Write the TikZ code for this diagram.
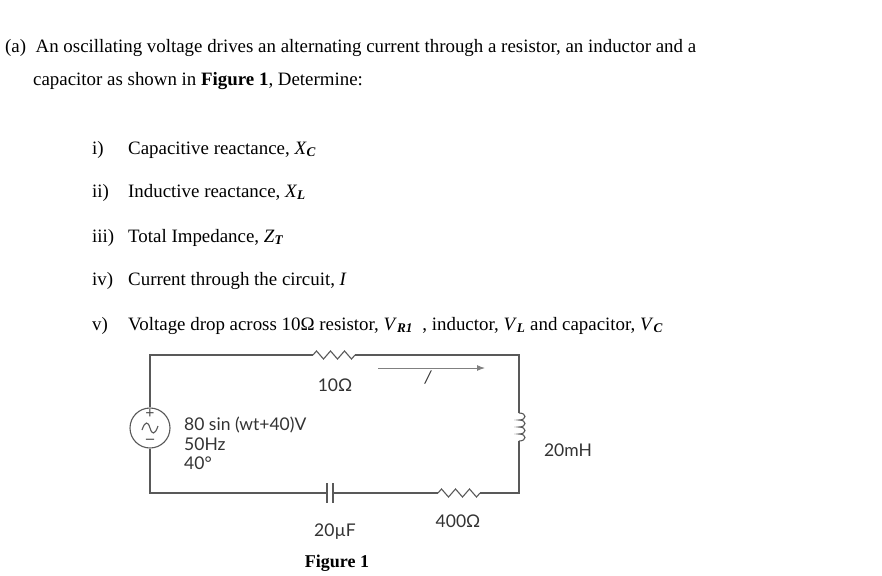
\documentclass[tikz,border=0pt]{standalone}
\usepackage{fontspec}
\setmainfont{Liberation Serif}
\newfontfamily\lato{Lato}
\usetikzlibrary{decorations.pathmorphing,arrows.meta}
\newcommand{\vv}[2]{\textit{#1}\textsubscript{\textbf{\textit{#2}}}}
\begin{document}
\begin{tikzpicture}[x=1pt,y=-1pt,
  txt/.style={anchor=base west,inner sep=0,font=\fontsize{18.9}{22}\selectfont},
  lab/.style={inner sep=0,font=\lato\fontsize{17.5}{20}\selectfont,text=black!80},
  wire/.style={draw=black!65,line width=1.1pt},
  zz/.style={wire,decorate,decoration={zigzag,segment length=14pt,amplitude=4pt}}]
\useasboundingbox (0,0) rectangle (882,575);
\node[txt] (t1) at (5,53) {(a)\ \ An oscillating voltage drives an alternating current through a resistor, an inductor and a};
\node[txt] (t2) at (33,86) {capacitor as shown in \textbf{Figure 1}, Determine:};
\node[txt] (a) at (92,154) {i)}; \node[txt] at (128,154) {Capacitive reactance, \vv{X}{C}};
\node[txt] (b) at (92,197) {ii)}; \node[txt] at (128,197) {Inductive reactance, \vv{X}{L}};
\node[txt] (c) at (92,242) {iii)}; \node[txt] at (128,242) {Total Impedance, \vv{Z}{T}};
\node[txt] (d) at (92,285) {iv)}; \node[txt] at (128,285) {Current through the circuit, \textit{I}};
\node[txt] (e) at (92,330) {v)}; \node[txt] at (128,330) {Voltage drop across 10Ω resistor, \vv{V}{R1}\ \ , inductor, \vv{V}{L} and capacitor, \vv{V}{C}};
% circuit
\coordinate (tl) at (150,355); \coordinate (tr) at (519,355);
\coordinate (bl) at (150,493); \coordinate (br) at (519,493);
\node[circle,draw=black!65,line width=1.1pt,minimum size=40pt,inner sep=0] (src) at (150,428) {};
\node[font=\fontsize{16}{16}\selectfont\bfseries,text=black!70,inner sep=0] (pl) at (150,414) {+};
\node[font=\fontsize{16}{16}\selectfont\bfseries,text=black!70,inner sep=0] (mi) at (150,441) {–};
\draw[black!65,line width=1.1pt] (142,430) .. controls (145,421) and (148,421) .. (150,428) .. controls (152,435) and (155,435) .. (158,426);
\draw[wire] (src.north) -- (tl) -- (313,355);
\draw[zz] (313,355) -- (355,355);
\draw[wire] (355,355) -- (tr) -- (519,413);
\draw[wire] (519,413) .. controls (527,413) and (527,420) .. (519,420)
  .. controls (527,420) and (527,427) .. (519,427)
  .. controls (527,427) and (527,434) .. (519,434)
  .. controls (527,434) and (527,441) .. (519,441);
\draw[wire] (519,441) -- (br) -- (480,493);
\draw[zz] (480,493) -- (438,493);
\draw[wire] (438,493) -- (333,493);
\draw[wire] (327,493) -- (bl) -- (src.south);
\draw[black!65,line width=1.3pt] (327,483) -- (327,503) (333,483) -- (333,503);
\draw[black!50,line width=1pt,-{Latex[length=8pt,width=6pt]}] (378,368) -- (485,368);
\node[lab] (I) at (428,378) {\itshape /};
\node[lab] (r1) at (335,385) {10Ω};
\node[lab,anchor=west] (vs) at (184,425) {80 sin (wt+40)V};
\node[lab,anchor=west] (hz) at (184,444) {50Hz};
\node[lab,anchor=west] (ph) at (184,463) {40°};
\node[lab] (l) at (568,450) {20mH};
\node[lab] (r2) at (458,521) {400Ω};
\node[lab] (cc) at (335,532) {20µF};
\node[inner sep=0,font=\fontsize{18}{20}\selectfont\bfseries] (f) at (337,563) {Figure 1};
\end{tikzpicture}
\end{document}
